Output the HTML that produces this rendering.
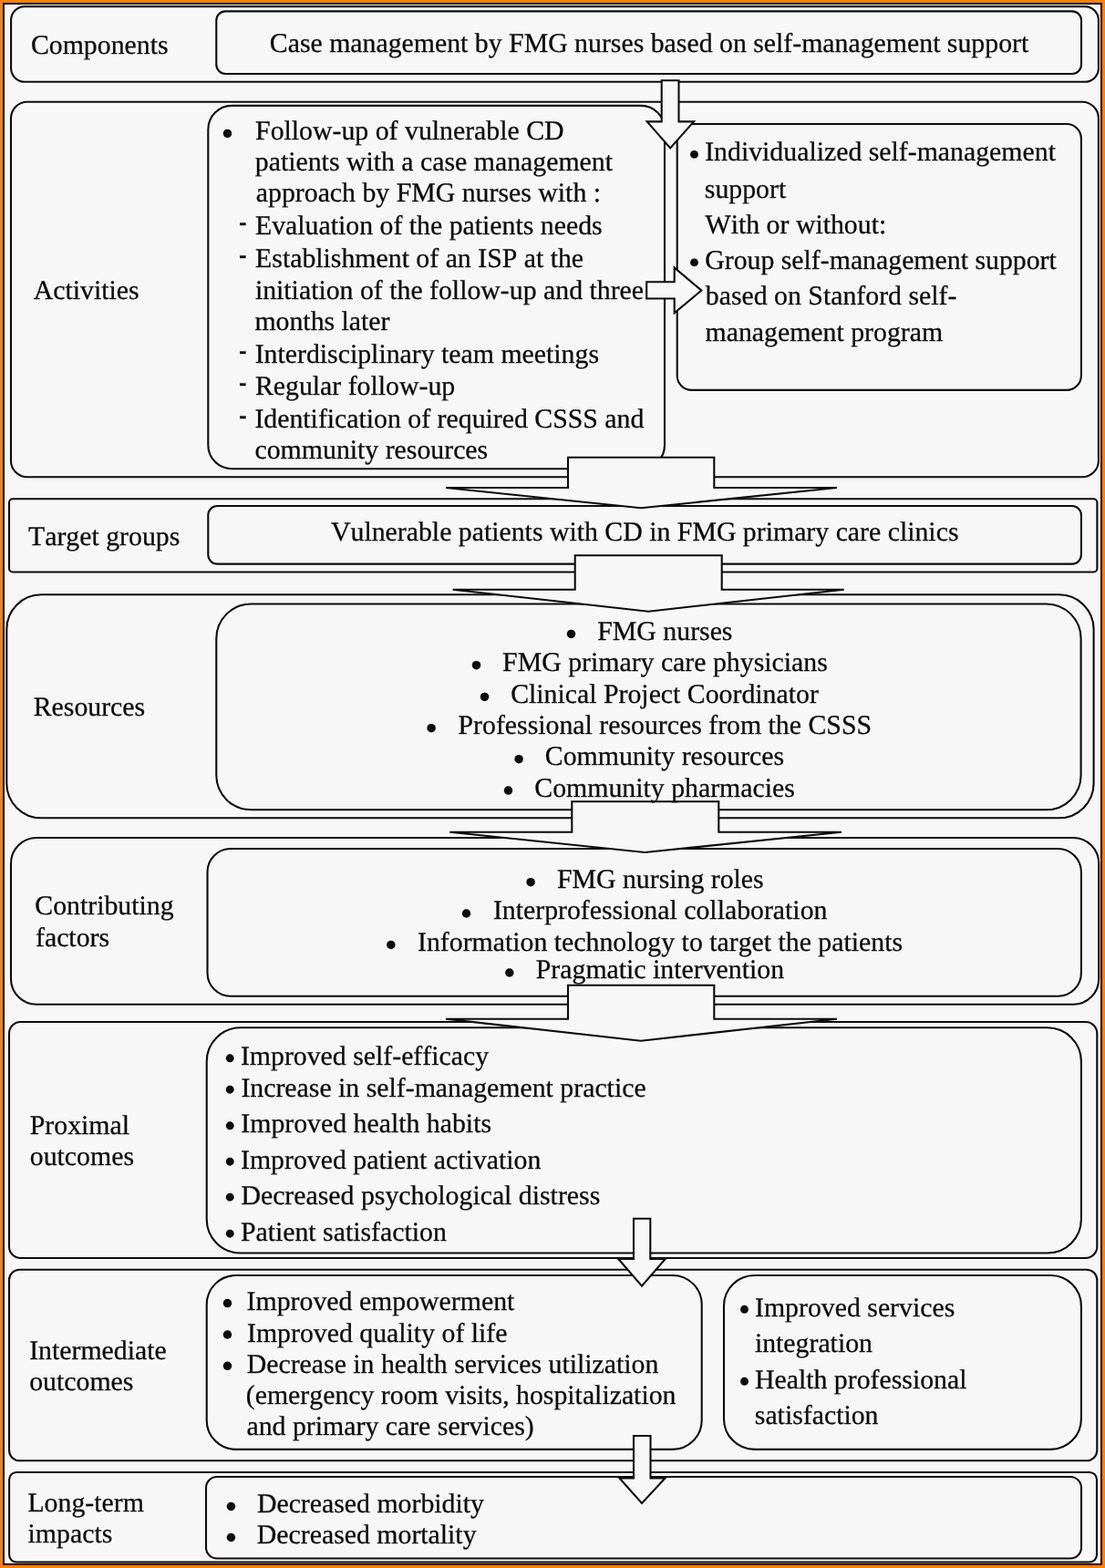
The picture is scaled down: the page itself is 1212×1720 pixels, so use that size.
<!DOCTYPE html>
<html lang="en">
<head>
<meta charset="utf-8">
<title>Logic model of case management by FMG nurses</title>
<style>
html,body{margin:0;padding:0;background:#f7f7f7;}
body{width:1212px;height:1720px;overflow:hidden;position:relative;}
svg{display:block;position:absolute;left:0;top:0;}
text{font-family:"Liberation Serif","Times New Roman",Times,serif;font-size:29.8px;fill:#0c0c0c;stroke:#0c0c0c;stroke-width:0.3px;white-space:pre;font-kerning:none;font-variant-ligatures:none;text-rendering:geometricPrecision;}
.t{filter:blur(0.35px);}
.b{fill:none;stroke:#0c0c0c;stroke-width:2.1;}
.a{fill:#f7f7f7;stroke:#0c0c0c;stroke-width:2.1;stroke-linejoin:miter;}
</style>
</head>
<body>
<svg width="1212" height="1720" viewBox="0 0 1212 1720">
<rect x="0" y="0" width="1212" height="1720" fill="#ff8000"/>
<rect x="3" y="3" width="1206" height="1713.8" fill="#140500"/>
<rect x="5" y="5" width="1202" height="1709.9" fill="#f7f7f7"/>
<g class="b">
<rect x="12.1" y="7.1" width="1192.8" height="82.7" rx="15" ry="15"/>
<rect x="237.3" y="12.4" width="948.7" height="68.6" rx="10" ry="10"/>
<rect x="12" y="111.7" width="1192.9" height="411.6" rx="18" ry="18"/>
<rect x="228.3" y="115.9" width="500.7" height="398.3" rx="26" ry="26"/>
<rect x="742.7" y="136" width="443.2" height="291.9" rx="16" ry="16"/>
<rect x="10" y="547.3" width="1193.4" height="80.2" rx="4" ry="4"/>
<rect x="228.3" y="555" width="957.6" height="63.6" rx="10" ry="10"/>
<rect x="7.3" y="652.3" width="1192.3" height="245.0" rx="38" ry="38"/>
<rect x="237.3" y="662.5" width="948.3" height="225.8" rx="38" ry="38"/>
<rect x="12" y="919" width="1193.2" height="182.7" rx="28" ry="28"/>
<rect x="227.5" y="931" width="958.4" height="161.7" rx="25.5" ry="25.5"/>
<rect x="10" y="1121" width="1193.3" height="259.0" rx="12.5" ry="12.5"/>
<rect x="226.7" y="1127.3" width="959.2" height="247.2" rx="37" ry="37"/>
<rect x="10" y="1392.7" width="1193.3" height="209.6" rx="11.5" ry="11.5"/>
<rect x="226.7" y="1399" width="543.0" height="190.9" rx="32" ry="32"/>
<rect x="794" y="1399" width="391.9" height="190.9" rx="33.5" ry="33.5"/>
<rect x="10.1" y="1615" width="1192.9" height="98.5" rx="8" ry="8"/>
<path d="M238,1620 H1174 A12,12 0 0 1 1186,1632 V1697.5 A12,12 0 0 1 1174,1709.5 H238 A12,12 0 0 1 226,1697.5 V1632 A12,12 0 0 1 238,1620 Z"/>
</g>
<g class="a">
<path d="M725.7,88.3 H744.5 V133.4 H761 L735.2,162.5 L709.7,133.4 H725.7 Z"/>
<path d="M709.2,309.2 H739.7 V293.6 L769.4,318.6 L739.7,343.3 V327.5 H709.2 Z"/>
<path d="M623,501.7 H783.3 V535 H918 L703,557.3 L489,535 H623 Z"/>
<path d="M630.7,609.3 H791.7 V646.7 H925.7 L711.3,670.7 L496.7,646.7 H630.7 Z"/>
<path d="M627.3,879.3 H788.3 V912.7 H923 L707.3,935 L493.3,912.7 H627.3 Z"/>
<path d="M623,1080.7 H783.3 V1117.7 H918 L703,1141.7 L489,1117.7 H623 Z"/>
<path d="M695,1336.7 H713.3 V1381 H729.7 L704,1410.7 L678.3,1381 H695 Z"/>
<path d="M695,1575 H713.5 V1621.5 H729.5 L704,1649 L679.5,1621.5 H695 Z"/>
</g>
<g fill="#0c0c0c">
<circle cx="249.5" cy="146.4" r="4.75"/>
<circle cx="761.5" cy="169.4" r="4.45"/>
<circle cx="761.5" cy="287.9" r="4.45"/>
<circle cx="626.5" cy="695.4" r="4.75"/>
<circle cx="522.5" cy="729.7" r="4.75"/>
<circle cx="531.5" cy="764.4" r="4.75"/>
<circle cx="473.1" cy="798.7" r="4.75"/>
<circle cx="569.1" cy="832.7" r="4.75"/>
<circle cx="557.5" cy="867.1" r="4.75"/>
<circle cx="582.1" cy="967.7" r="4.75"/>
<circle cx="511.5" cy="1002.0" r="4.75"/>
<circle cx="428.8" cy="1036.4" r="4.75"/>
<circle cx="558.8" cy="1067.0" r="4.75"/>
<circle cx="252.2" cy="1160.8" r="4.45"/>
<circle cx="252.2" cy="1195.2" r="4.45"/>
<circle cx="252.2" cy="1234.8" r="4.45"/>
<circle cx="252.2" cy="1274.2" r="4.45"/>
<circle cx="252.2" cy="1313.2" r="4.45"/>
<circle cx="252.2" cy="1353.2" r="4.45"/>
<circle cx="249.5" cy="1429.6" r="4.75"/>
<circle cx="249.5" cy="1464.0" r="4.75"/>
<circle cx="249.5" cy="1498.3" r="4.75"/>
<circle cx="816.5" cy="1436.3" r="4.45"/>
<circle cx="816.5" cy="1515.3" r="4.45"/>
<circle cx="253.4" cy="1652.5" r="4.75"/>
<circle cx="253.4" cy="1686.5" r="4.75"/>
</g>
<g class="t">
<text transform="translate(262.3,254.3) scale(0.82,1.18)">-</text>
<text transform="translate(262.3,290.3) scale(0.82,1.18)">-</text>
<text transform="translate(262.3,394.7) scale(0.82,1.18)">-</text>
<text transform="translate(262.3,430.3) scale(0.82,1.18)">-</text>
<text transform="translate(262.3,466.0) scale(0.82,1.18)">-</text>
<text x="33.9" y="59.2">Components</text>
<text x="295.8" y="57.2">Case management by FMG nurses based on self-management support</text>
<text x="36.8" y="328">Activities</text>
<text x="280.1" y="153.3">Follow-up of vulnerable CD</text>
<text x="279.8" y="186.7">patients with a case management</text>
<text x="280.8" y="221">approach by FMG nurses with :</text>
<text x="280.0" y="257.3">Evaluation of the patients needs</text>
<text x="280.1" y="293.3">Establishment of an ISP at the</text>
<text x="279.9" y="327.7">initiation of the follow-up and three</text>
<text x="279.4" y="362.3">months later</text>
<text x="279.7" y="397.7">Interdisciplinary team meetings</text>
<text x="279.9" y="433.3">Regular follow-up</text>
<text x="279.4" y="469">Identification of required CSSS and</text>
<text x="279.5" y="503.3">community resources</text>
<text x="773.2" y="175.7">Individualized self-management</text>
<text x="772.8" y="216.7">support</text>
<text x="773.6" y="256">With or without:</text>
<text x="773.2" y="294.8">Group self-management support</text>
<text x="773.8" y="334.3">based on Stanford self-</text>
<text x="773.5" y="374">management program</text>
<text x="31.0" y="598.3">Target groups</text>
<text x="363.0" y="593.1">Vulnerable patients with CD in FMG primary care clinics</text>
<text x="36.7" y="785.0">Resources</text>
<text x="655.3" y="701.7">FMG nurses</text>
<text x="551.1" y="736.3">FMG primary care physicians</text>
<text x="560.2" y="770.9">Clinical Project Coordinator</text>
<text x="502.5" y="805.2">Professional resources from the CSSS</text>
<text x="597.8" y="839">Community resources</text>
<text x="586.3" y="873.6">Community pharmacies</text>
<text x="38.3" y="1003.4">Contributing</text>
<text x="39.0" y="1037.5">factors</text>
<text x="610.9" y="974">FMG nursing roles</text>
<text x="540.9" y="1008.3">Interprofessional collaboration</text>
<text x="458.0" y="1042.7">Information technology to target the patients</text>
<text x="587.8" y="1073.3">Pragmatic intervention</text>
<text x="32.8" y="1244">Proximal</text>
<text x="32.8" y="1278.3">outcomes</text>
<text x="263.9" y="1168.3">Improved self-efficacy</text>
<text x="264.4" y="1202.7">Increase in self-management practice</text>
<text x="264.3" y="1242.3">Improved health habits</text>
<text x="264.0" y="1281.7">Improved patient activation</text>
<text x="264.4" y="1320.7">Decreased psychological distress</text>
<text x="263.9" y="1360.7">Patient satisfaction</text>
<text x="32.2" y="1491">Intermediate</text>
<text x="32.2" y="1525">outcomes</text>
<text x="270.6" y="1437.3">Improved empowerment</text>
<text x="271.0" y="1471.7">Improved quality of life</text>
<text x="270.7" y="1506">Decrease in health services utilization</text>
<text x="269.8" y="1540">(emergency room visits, hospitalization</text>
<text x="270.5" y="1574.3">and primary care services)</text>
<text x="828.0" y="1443.9">Improved services</text>
<text x="827.9" y="1483.3">integration</text>
<text x="828.0" y="1522.9">Health professional</text>
<text x="827.8" y="1562.3">satisfaction</text>
<text x="30.4" y="1657.5">Long-term</text>
<text x="30.6" y="1691.5">impacts</text>
<text x="281.9" y="1659">Decreased morbidity</text>
<text x="281.8" y="1693">Decreased mortality</text>
</g>
</svg>
</body>
</html>
